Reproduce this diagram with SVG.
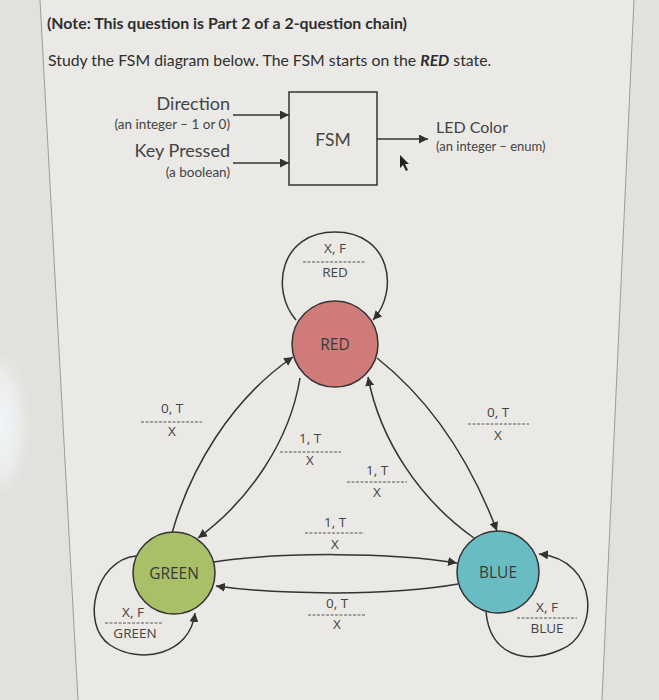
<svg xmlns="http://www.w3.org/2000/svg" width="659" height="700" viewBox="0 0 659 700">
<defs>
<marker id="ah" viewBox="0 0 10 10" refX="10" refY="5" markerWidth="9" markerHeight="9" markerUnits="userSpaceOnUse" orient="auto"><path d="M0,0 L10,5 L0,10 z" fill="#333"/></marker>
<radialGradient id="glare" cx="0.3" cy="0.5" r="0.6"><stop offset="0" stop-color="#f3f6f9"/><stop offset="0.6" stop-color="#eef1f3" stop-opacity="0.7"/><stop offset="1" stop-color="#e3e1dc" stop-opacity="0"/></radialGradient>
</defs>
<style>
.t{font-family:Lato,"Open Sans",sans-serif;fill:#2e2e2e}
.d{font-family:Lato,"Open Sans",sans-serif;fill:#444}
.lb{font-family:"Open Sans",Lato,sans-serif;fill:#444;font-size:13.5px;text-anchor:middle}
.dash{stroke:#555;stroke-width:1;stroke-dasharray:3,1.5}
.ln{fill:none;stroke:#333;stroke-width:1.5}
.st{stroke:#333;stroke-width:1.5}
.sn{font-family:"Open Sans",Lato,sans-serif;font-size:15.5px;text-anchor:middle;fill:#3a3a3a}
</style>
<rect width="659" height="700" fill="#e3e1dc"/>
<ellipse cx="10" cy="425" rx="30" ry="70" fill="url(#glare)"/>
<polygon points="40,0 634,0 602,700 78,700" fill="#eae9e5"/>
<line x1="40" y1="0" x2="78" y2="700" stroke="#9b9b9b" stroke-width="1"/>
<line x1="634" y1="0" x2="602" y2="700" stroke="#9b9b9b" stroke-width="1"/>
<text class="t" x="47" y="29" font-size="15.9" font-weight="bold">(Note: This question is Part 2 of a 2-question chain)</text>
<text class="t" x="48" y="66" font-size="15.8">Study the FSM diagram below. The FSM starts on the <tspan font-weight="bold" font-style="italic">RED</tspan> state.</text>
<g id="io">
<text class="d" x="230" y="110" font-size="18" text-anchor="end">Direction</text>
<text class="d" x="230" y="129" font-size="13.5" text-anchor="end">(an integer – 1 or 0)</text>
<text class="d" x="230" y="157" font-size="18" text-anchor="end">Key Pressed</text>
<text class="d" x="230" y="177" font-size="13.5" text-anchor="end">(a boolean)</text>
<text class="d" x="436" y="133" font-size="16">LED Color</text>
<text class="d" x="436" y="151" font-size="13">(an integer – enum)</text>
</g>
<g id="fsm">
<rect x="289" y="92" width="88" height="93" fill="none" stroke="#333" stroke-width="1.5"/>
<text class="d" x="333" y="146" font-size="17.5" text-anchor="middle">FSM</text>
</g>
<g id="io-arrows">
<line class="st" x1="233" y1="115" x2="289" y2="115" marker-end="url(#ah)"/>
<line class="st" x1="233" y1="163" x2="289" y2="163" marker-end="url(#ah)"/>
<line class="st" x1="377" y1="139" x2="428" y2="139" marker-end="url(#ah)"/>
</g>
<polygon points="400,155 400,168 403,165 406,171 408,170 405,164 409,164" fill="#222"/>
<g id="connectors">
<path class="ln" d="M296,320 C270,290 280,232 335,232 C390,232 400,290 373,320" marker-end="url(#ah)"/>
<path class="ln" d="M136,556 C95,560 80,625 110,645 C140,665 190,655 195,613" marker-end="url(#ah)"/>
<path class="ln" d="M486,612 C490,655 525,665 560,650 C600,635 600,560 539,554" marker-end="url(#ah)"/>
<path class="ln" d="M300,378 C290,440 250,500 198,538" marker-end="url(#ah)"/>
<path class="ln" d="M172,533 C190,470 230,400 293,357" marker-end="url(#ah)"/>
<path class="ln" d="M377,358 C430,400 470,460 497,531" marker-end="url(#ah)"/>
<path class="ln" d="M474,538 C420,500 380,440 368,377" marker-end="url(#ah)"/>
<path class="ln" d="M214,562 C280,552 390,552 457,563" marker-end="url(#ah)"/>
<path class="ln" d="M458,584 C390,596 280,595 216,586" marker-end="url(#ah)"/>
</g>
<g id="labels">
<text class="lb" x="335" y="253">X, F</text><line class="dash" x1="303" y1="262" x2="366" y2="262"/><text class="lb" x="335" y="277">RED</text>
<text class="lb" x="172" y="413">0, T</text><line class="dash" x1="141" y1="422" x2="202" y2="422"/><text class="lb" x="172" y="436">X</text>
<text class="lb" x="310" y="443">1, T</text><line class="dash" x1="280" y1="452" x2="341" y2="452"/><text class="lb" x="310" y="465">X</text>
<text class="lb" x="498" y="417">0, T</text><line class="dash" x1="468" y1="424" x2="529" y2="424"/><text class="lb" x="498" y="440">X</text>
<text class="lb" x="377" y="475">1, T</text><line class="dash" x1="347" y1="482" x2="407" y2="482"/><text class="lb" x="377" y="497">X</text>
<text class="lb" x="335" y="527">1, T</text><line class="dash" x1="305" y1="533" x2="364" y2="533"/><text class="lb" x="335" y="549">X</text>
<text class="lb" x="337" y="608">0, T</text><line class="dash" x1="308" y1="615" x2="365" y2="615"/><text class="lb" x="337" y="629">X</text>
<text class="lb" x="133" y="617">X, F</text><line class="dash" x1="105" y1="623" x2="163" y2="623"/><text class="lb" x="135" y="638">GREEN</text>
<text class="lb" x="547" y="612">X, F</text><line class="dash" x1="517" y1="618" x2="577" y2="618"/><text class="lb" x="547" y="633">BLUE</text>
</g>
<g id="red"><circle cx="335" cy="344" r="43" fill="#cf7b79" stroke="#333" stroke-width="1.5"/><text class="sn" x="335" y="350">RED</text></g>
<g id="green"><circle cx="174" cy="573" r="41" fill="#a9bf68" stroke="#333" stroke-width="1.5"/><text class="sn" x="174" y="579">GREEN</text></g>
<g id="blue"><circle cx="498" cy="572" r="41" fill="#69bcc1" stroke="#333" stroke-width="1.5"/><text class="sn" x="498" y="578">BLUE</text></g>
</svg>
